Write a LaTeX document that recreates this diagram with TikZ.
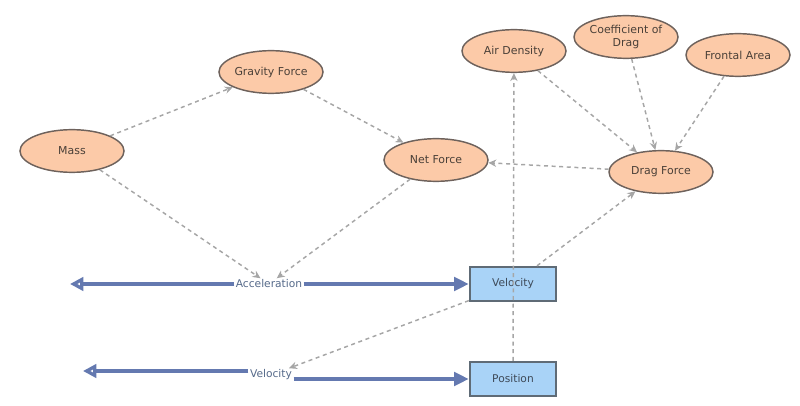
\documentclass[tikz,border=0pt]{standalone}
\usepackage{fontspec}
\setmainfont{DejaVu Sans}
\usetikzlibrary{shapes.geometric,arrows.meta}
\definecolor{peach}{HTML}{FCCAA8}
\definecolor{varline}{HTML}{6E625C}
\definecolor{vartext}{HTML}{4A4038}
\definecolor{stockfill}{HTML}{A9D3F7}
\definecolor{stockline}{HTML}{5F6B76}
\definecolor{stocktext}{HTML}{3E4A58}
\definecolor{flowblue}{HTML}{6479B0}
\definecolor{labeltext}{HTML}{566A8A}
\definecolor{linkgray}{HTML}{A6A6A6}

\begin{document}
\begin{tikzpicture}[x=0.75pt,y=-0.75pt,
    var/.style={draw=varline, fill=peach, ellipse, line width=1.1pt, minimum width=78pt,
        minimum height=32pt, inner sep=0pt, align=center, text=vartext,
        font=\fontsize{8.2}{9.5}\selectfont},
    stock/.style={draw=stockline, fill=stockfill, line width=1.3pt, minimum width=65pt,
        minimum height=26pt, text=stocktext, font=\fontsize{8}{9.5}\selectfont},
    link/.style={draw=linkgray, line width=1.1pt, dash pattern=on 3pt off 2.7pt,
        -{Stealth[length=6pt,width=5.5pt]}},
    flow/.style={draw=flowblue, line width=3.2pt},
    flowlabel/.style={fill=white, inner sep=1pt, text=labeltext,
        font=\fontsize{8}{9.5}\selectfont},
    intip/.style={-{Triangle[length=11pt,width=10pt]}},
    outtip/.style={-{Triangle[open,length=10pt,width=10pt,line width=2.6pt]}}]
    \useasboundingbox (0,0) rectangle (800,406);

    % auxiliaries
    \node[var] (mass) at (72,151) {Mass};
    \node[var] (gravity) at (271,72) {Gravity Force};
    \node[var] (net) at (436,160) {Net Force};
    \node[var] (drag) at (661,172) {Drag Force};
    \node[var] (air) at (514,51) {Air Density};
    \node[var, inner xsep=-5pt] (coef) at (626,37) {Coefficient of\\Drag};
    \node[var] (frontal) at (738,55) {Frontal Area};

    % stocks
    \node[stock] (vel) at (513,284) {Velocity};
    \node[stock] (pos) at (513,379) {Position};

    % flows
    \coordinate (accsrc) at (70,284);
    \coordinate (velsrc) at (83,371);
    \node[flowlabel] (acc) at (269,284) {Acceleration};
    \node[flowlabel] (vrate) at (271,375) {Velocity};

    \draw[flow, outtip] (acc) -- (accsrc);
    \draw[flow, intip] (acc) -- (vel);
    \draw[flow, outtip] (vrate.west |- velsrc) -- (velsrc);
    \draw[flow, intip] (vrate.east |- pos) -- (pos);

    % links
    \draw[link] (mass) -- (gravity);
    \draw[link] (gravity) -- (net);
    \draw[link] (mass) -- (acc);
    \draw[link] (net) -- (acc);
    \draw[link] (drag) -- (net);
    \draw[link] (air) -- (drag);
    \draw[link] (coef) -- (drag);
    \draw[link] (frontal) -- (drag);
    \draw[link] (vel) -- (drag);
    \draw[link] (pos) -- (air);
    \draw[link] (vel) -- (vrate);
\end{tikzpicture}
\end{document}
